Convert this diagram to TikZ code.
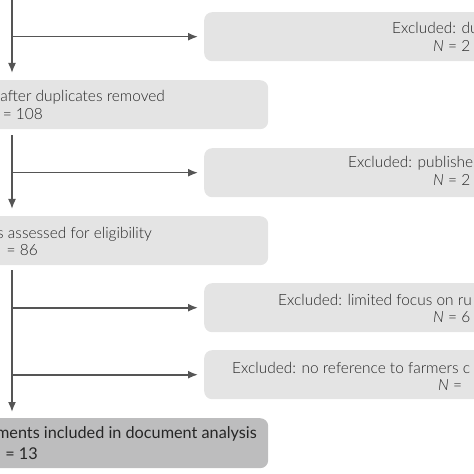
\documentclass[tikz,border=0pt]{standalone}
\usepackage{fontspec}
\setmainfont{Lato}[UprightFont=* Light, ItalicFont=* Light Italic, BoldFont=*]
\usetikzlibrary{arrows.meta}
\definecolor{boxlight}{HTML}{E4E4E4}
\definecolor{boxdark}{HTML}{BDBDBE}
\definecolor{inkgray}{HTML}{262626}
\definecolor{linegray}{HTML}{555555}
\begin{document}
\begin{tikzpicture}[
    x=1bp, y=-1bp,
    lightbox/.style={
        fill=boxlight, rounded corners=8bp, anchor=north west,
        minimum width=508bp, minimum height=49bp, inner sep=0pt
    },
    darkbox/.style={
        lightbox, fill=boxdark, minimum height=50bp
    },
    linetext/.style={
        inner sep=0pt, font=\fontsize{15.5}{17}\selectfont, text=inkgray
    },
    boldtext/.style={
        linetext, font=\fontsize{16.3}{18}\selectfont\bfseries
    },
    arrowstyle/.style={
        -{Latex[length=10bp,width=8bp]}, line width=1.6bp, linegray
    }
]
\useasboundingbox (0,0) rectangle (474,474);
\clip (0,0) rectangle (474,474);

% Main column (left)
\node[lightbox] (recs) at (-240, 80) {};
\node[lightbox] (full) at (-240,216) {};
\node[darkbox]  (incl) at (-240,418) {};

% Excluded column (right)
\node[lightbox] (dup)   at (204, 12) {};
\node[lightbox] (pub)   at (204,148) {};
\node[lightbox] (focus) at (204,283) {};
\node[lightbox] (farm)  at (204,350) {};

% Texts of the main column
\node[linetext, anchor=base east] (recs-a) at (165,102) {after duplicates removed};
\node[linetext, anchor=base east] (recs-b) at ( 43,120) {= 108};
\node[linetext, anchor=base east] (full-a) at (152,238) {s assessed for eligibility};
\node[linetext, anchor=base east] (full-b) at ( 38,255) {= 86};
\node[boldtext, anchor=base east] (incl-a) at (257,438) {ments included in document analysis};
\node[boldtext, anchor=base east] (incl-b) at ( 38,459) {= 13};

% Texts of the excluded column
\node[linetext, anchor=base west] (dup-a)   at (392, 34) {Excluded: du};
\node[linetext, anchor=base west] (dup-b)   at (433, 52) {\textit{N} = 2};
\node[linetext, anchor=base west] (pub-a)   at (348,168) {Excluded: publishe};
\node[linetext, anchor=base west] (pub-b)   at (433,186) {\textit{N} = 2};
\node[linetext, anchor=base west] (focus-a) at (278,305) {Excluded: limited focus on ru};
\node[linetext, anchor=base west] (focus-b) at (433,322) {\textit{N} = 6};
\node[linetext, anchor=base west] (farm-a)  at (232,373) {Excluded: no reference to farmers c};
\node[linetext, anchor=base west] (farm-b)  at (438,390) {\textit{N} =};

% Spine of the flow
\coordinate (top) at (12,-5);
\draw[arrowstyle, shorten >=7bp] (top) -- (top |- recs.north);
\draw[arrowstyle, shorten <=6bp, shorten >=7bp] (recs.south -| top) -- (full.north -| top);
\draw[arrowstyle, shorten <=5bp, shorten >=6bp] (full.south -| top) -- (incl.north -| top);

% Exclusion arrows
\draw[arrowstyle, shorten >=6bp] (dup.west -| top)   -- (dup.west);
\draw[arrowstyle, shorten >=6bp] (pub.west -| top)   -- (pub.west);
\draw[arrowstyle, shorten >=6bp] (focus.west -| top) -- (focus.west);
\draw[arrowstyle, shorten >=6bp] (farm.west -| top)  -- (farm.west);

\end{tikzpicture}
\end{document}
